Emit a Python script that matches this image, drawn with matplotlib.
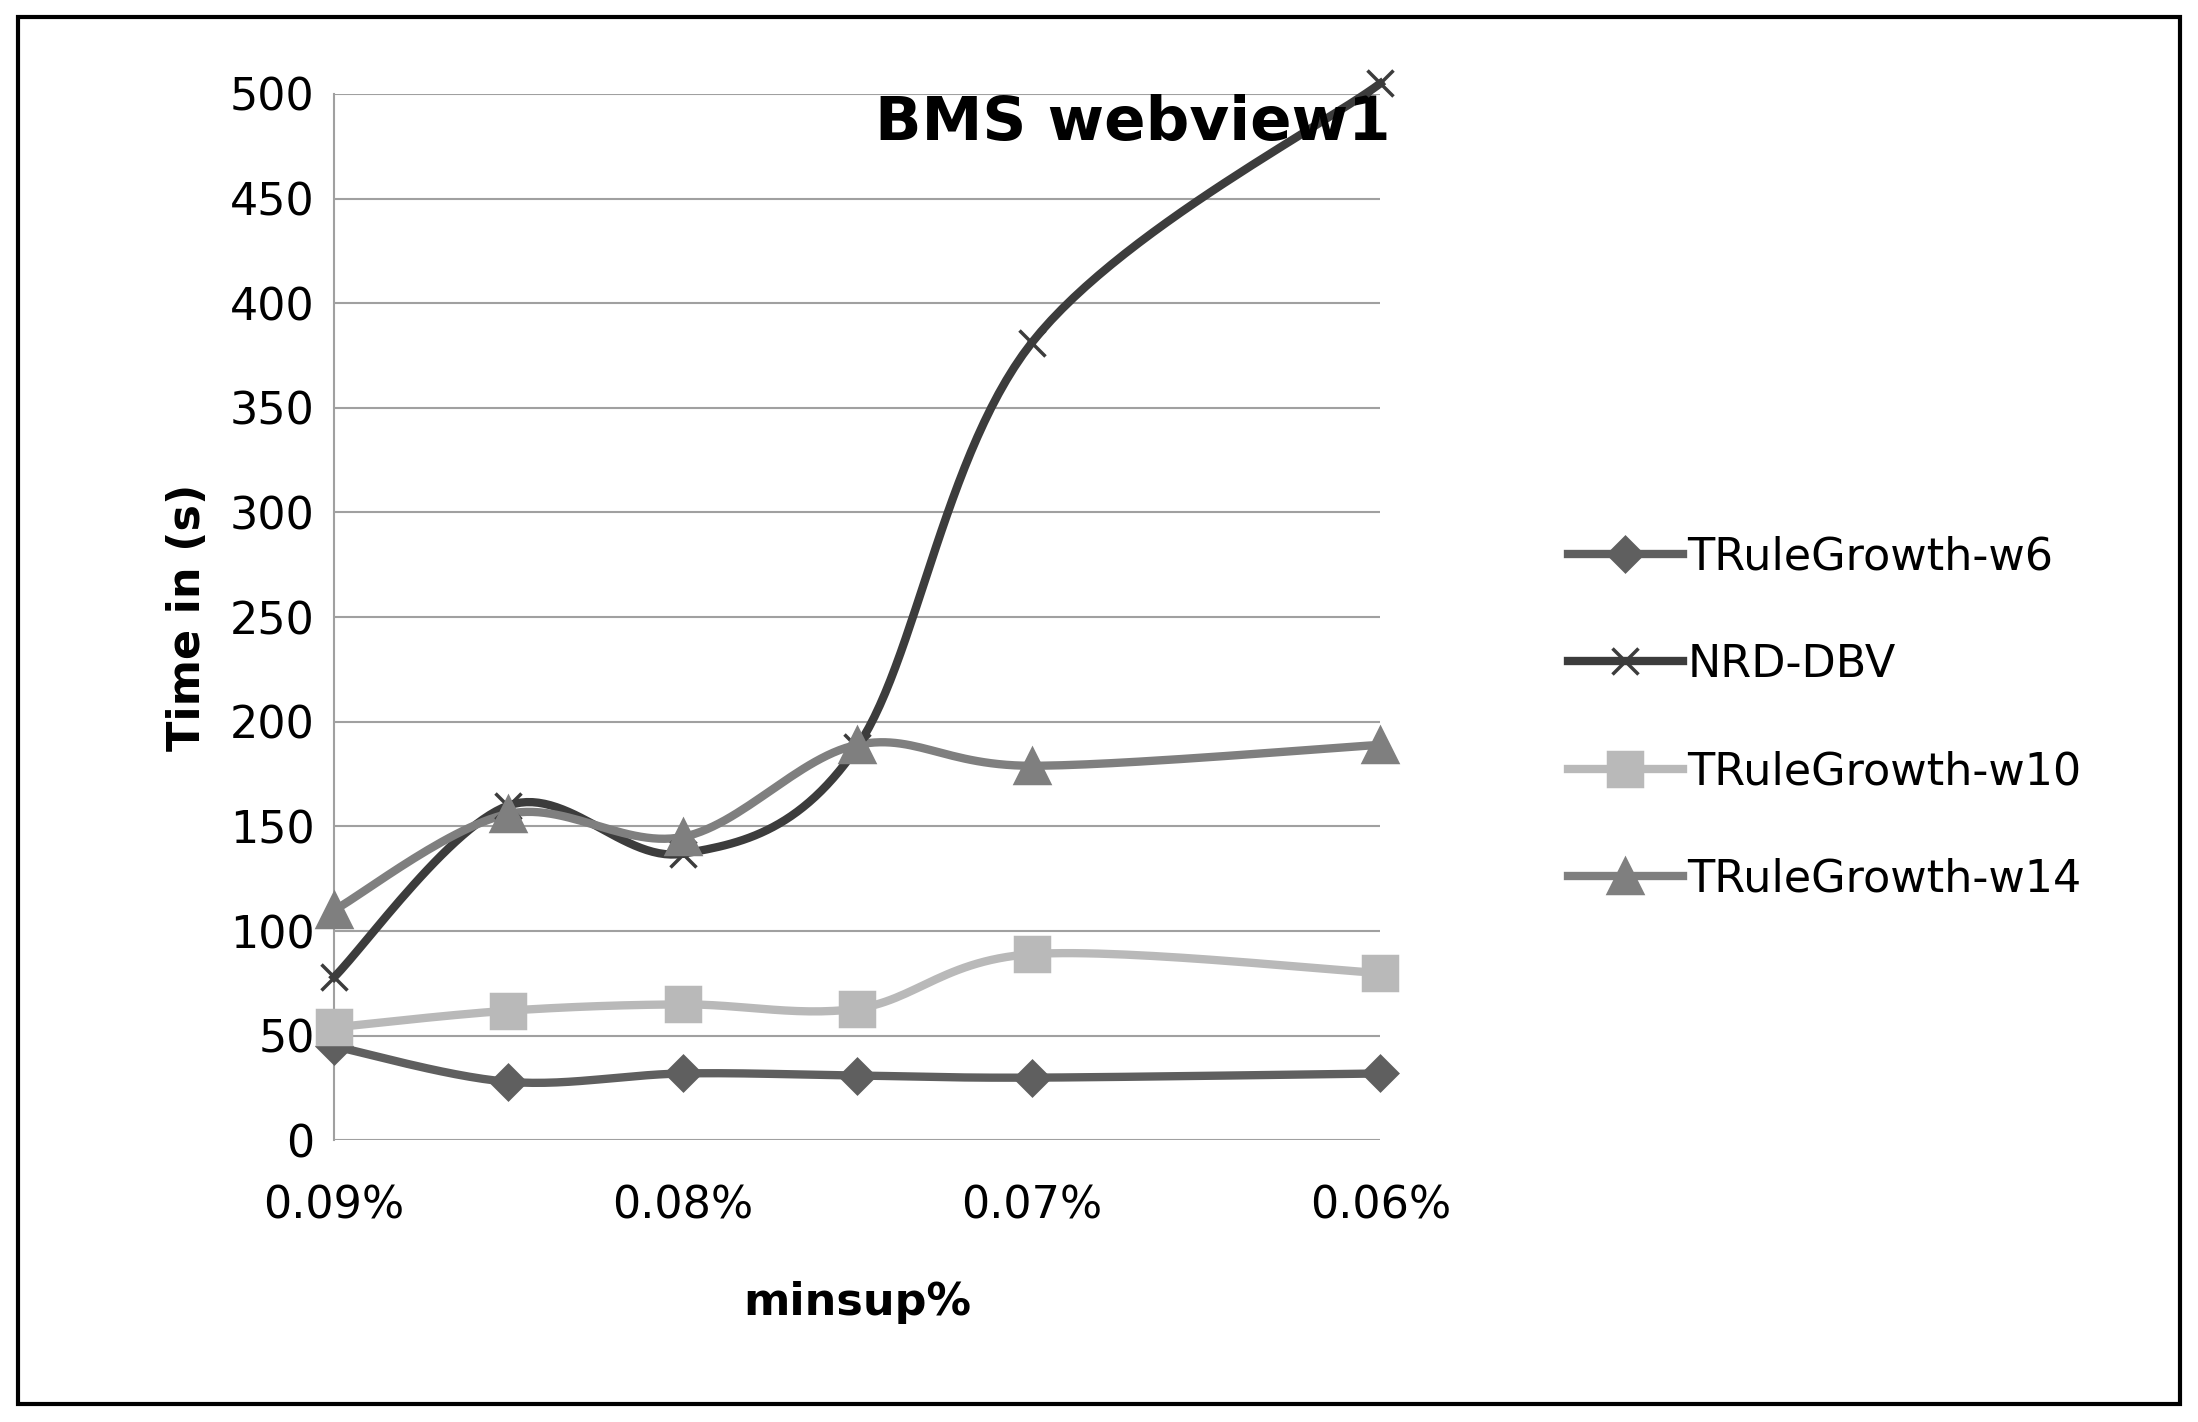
import numpy as np
import matplotlib
matplotlib.use("Agg")
import matplotlib.pyplot as plt
from matplotlib.patches import Rectangle

x = [0.09, 0.085, 0.08, 0.075, 0.07, 0.06]
w6 = [45, 28, 32, 31, 30, 32]
nrd = [78, 160, 137, 188, 381, 505]
w10 = [54, 62, 65, 63, 89, 80]
w14 = [110, 156, 145, 189, 179, 189]
xticks = [0.09, 0.08, 0.07, 0.06]
xticklabels = ["0.09%", "0.08%", "0.07%", "0.06%"]

def smooth(xs, ys, n=30):
    xs = np.asarray(xs, float); ys = np.asarray(ys, float)
    P = np.column_stack([xs, ys])
    P = np.vstack([P[0], P, P[-1]])
    out = []
    for i in range(1, len(P) - 2):
        p0, p1, p2, p3 = P[i-1], P[i], P[i+1], P[i+2]
        t = np.linspace(0, 1, n)[:, None]
        seg = 0.5 * ((2*p1) + (-p0 + p2)*t + (2*p0 - 5*p1 + 4*p2 - p3)*t**2 + (-p0 + 3*p1 - 3*p2 + p3)*t**3)
        out.append(seg)
    a = np.vstack(out)
    return a[:, 0], a[:, 1]

fig = plt.figure(figsize=(21.98, 14.22), dpi=100)
fig.patches.append(Rectangle((0.008, 0.013), 0.984, 0.975, transform=fig.transFigure,
                             fill=False, edgecolor="black", linewidth=3))
ax = fig.add_axes([0.152, 0.198, 0.476, 0.736])

series = [("TRuleGrowth-w6", w6, "#5f5f5f", "D", 17),
          ("NRD-DBV", nrd, "#3c3c3c", "x", 19),
          ("TRuleGrowth-w10", w10, "#b9b9b9", "s", 25),
          ("TRuleGrowth-w14", w14, "#7f7f7f", "^", 25)]
for name, ys, c, m, ms in series:
    sx, sy = smooth(x, ys)
    ax.plot(sx, sy, color=c, lw=6, clip_on=False, zorder=3)
    ax.plot(x, ys, linestyle="none", marker=m, color=c, ms=ms, mew=2.5,
            clip_on=False, zorder=4)
    ax.plot([], [], color=c, lw=6, marker=m, ms=ms, mew=2.5, label=name)

ax.set_xlim(0.09, 0.06)
ax.set_ylim(0, 500)
ax.set_yticks(range(0, 501, 50))
ax.set_xticks(xticks)
ax.set_xticklabels(xticklabels)
ax.grid(axis="y", color="#a0a0a0", lw=1.5)
ax.set_axisbelow(True)
for s in ["top", "right", "bottom"]:
    ax.spines[s].set_visible(False)
ax.spines["left"].set_color("#a0a0a0")
ax.spines["left"].set_linewidth(1.5)
ax.tick_params(length=0, labelsize=32)
ax.tick_params(axis="x", pad=32)
ax.tick_params(axis="y", pad=14)
ax.set_xlabel("minsup%", fontsize=32, fontweight="bold", labelpad=38)
ax.set_ylabel("Time in (s)", fontsize=32, fontweight="bold", labelpad=15)
ax.text(1.01, 1.0, "BMS webview1", transform=ax.transAxes, ha="right", va="top",
        fontsize=44, fontweight="bold")
fig.legend(loc="center left", bbox_to_anchor=(0.695, 0.495), frameon=False,
           fontsize=32, handlelength=2.6, handletextpad=0.1, labelspacing=1.45)
fig.savefig("out.png", dpi=100)
